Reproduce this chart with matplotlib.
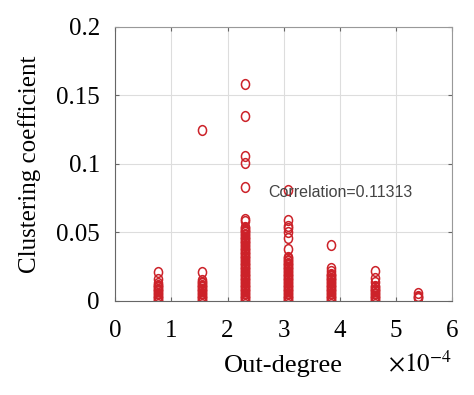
import matplotlib
matplotlib.use("Agg")
import matplotlib.pyplot as plt
from matplotlib.path import Path
from matplotlib.transforms import Affine2D

# out-degree positions (x 1e-4) and clustering coefficients per column
xs = [0.77, 1.54, 2.31, 3.08, 3.85, 4.62, 5.39]
ys = [
    [0, 0.001, 0.002, 0.003, 0.004, 0.005, 0.006, 0.007, 0.008, 0.009, 0.010, 0.011,
     0.012, 0.013, 0.016, 0.021],
    [0, 0.001, 0.002, 0.003, 0.004, 0.005, 0.006, 0.007, 0.008, 0.009, 0.010, 0.011,
     0.012, 0.013, 0.014, 0.015, 0.021, 0.125],
    [0, 0.001, 0.002, 0.003, 0.004, 0.005, 0.006, 0.007, 0.008, 0.009, 0.010, 0.011,
     0.012, 0.013, 0.014, 0.015, 0.016, 0.017, 0.018, 0.019, 0.020, 0.021, 0.022, 0.023,
     0.024, 0.025, 0.026, 0.027, 0.028, 0.029, 0.030, 0.031, 0.032, 0.033, 0.034, 0.035,
     0.036, 0.037, 0.038, 0.039, 0.040, 0.041, 0.042, 0.043, 0.044, 0.045, 0.046, 0.047,
     0.048, 0.049, 0.050, 0.051, 0.052, 0.053, 0.054, 0.058, 0.060, 0.083, 0.101, 0.106,
     0.135, 0.158],
    [0, 0.001, 0.002, 0.003, 0.004, 0.005, 0.006, 0.007, 0.008, 0.009, 0.010, 0.011,
     0.012, 0.013, 0.014, 0.015, 0.016, 0.017, 0.018, 0.019, 0.020, 0.021, 0.022, 0.023,
     0.024, 0.025, 0.026, 0.027, 0.028, 0.029, 0.030, 0.031, 0.032,
     0.038, 0.046, 0.050, 0.053, 0.055, 0.059, 0.081],
    [0, 0.001, 0.002, 0.003, 0.004, 0.005, 0.006, 0.007, 0.008, 0.009, 0.010, 0.011,
     0.012, 0.013, 0.014, 0.015, 0.016, 0.017, 0.018, 0.019, 0.020, 0.022, 0.024, 0.041],
    [0, 0.001, 0.002, 0.003, 0.004, 0.005, 0.006, 0.007, 0.008, 0.009, 0.010, 0.011,
     0.014, 0.017, 0.022],
    [0.002, 0.003, 0.004, 0.006],
]
corr_text = "Correlation=0.11313"

plt.rcParams["font.family"] = ["Liberation Serif", "DejaVu Serif"]
plt.rcParams["mathtext.fontset"] = "stix"

# slightly tall circle, like the squeezed original
oval = Path.unit_circle().transformed(Affine2D().scale(1.0, 1.2))

fig = plt.figure(figsize=(4.74, 3.95), dpi=100)
ax = fig.add_axes([0.243, 0.238, 0.711, 0.694])

for x, col in zip(xs, ys):
    ax.plot([x] * len(col), col, ls="none", marker=oval, mfc="none",
            mec="#cc2229", ms=7.0, mew=1.1)

ax.set_xlim(0, 6)
ax.set_ylim(0, 0.2)
ax.set_xticks([0, 1, 2, 3, 4, 5, 6])
ax.set_yticks([0, 0.05, 0.1, 0.15, 0.2])
ax.set_yticklabels(["0", "0.05", "0.1", "0.15", "0.2"])
ax.grid(True, color="#dddddd", lw=0.8)
ax.set_axisbelow(True)
for s in ax.spines.values():
    s.set_color("#999999")
ax.spines["left"].set_color("#666666")
ax.spines["bottom"].set_color("#666666")
ax.tick_params(direction="in", length=3, color="#666666", labelsize=18,
               right=True, top=True)
ax.tick_params(axis="x", pad=14)
ax.tick_params(axis="y", pad=11)

ax.set_xlabel("Out-degree", fontsize=19, labelpad=9)
ax.set_ylabel("Clustering coefficient", fontsize=18, labelpad=11)
ax.text(1.0, -0.228, r"$\times10^{-4}$", transform=ax.transAxes, ha="right",
        va="center", fontsize=18)

ax.text(2.72, 0.079, corr_text, family="Liberation Sans", fontsize=11.5,
        color="#444444", va="center")

fig.savefig("out.png", dpi=100)
